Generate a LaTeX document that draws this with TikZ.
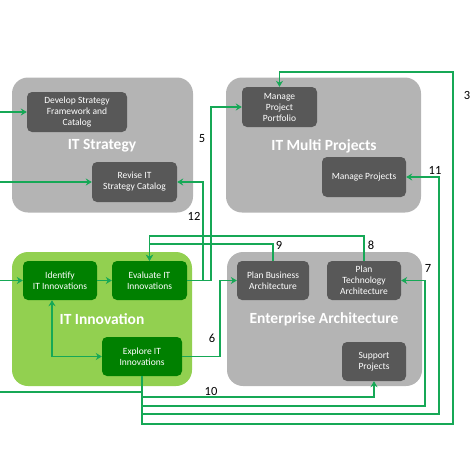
\documentclass[tikz,border=0pt]{standalone}
\usepackage{fontspec}
\setmainfont{Carlito}
\usetikzlibrary{arrows.meta}
\definecolor{flowgreen}{RGB}{22,168,86}
\definecolor{contgrey}{RGB}{180,180,180}
\definecolor{boxgrey}{RGB}{88,88,88}
\definecolor{innovgreen}{RGB}{146,208,80}
\definecolor{darkgreen}{RGB}{0,128,0}
\tikzset{
  container/.style={draw=none, fill=contgrey, rounded corners=16pt, inner sep=0pt},
  greencont/.style={container, fill=innovgreen},
  task/.style={draw=none, fill=boxgrey, rounded corners=5pt, text=white, align=center,
    font=\fontsize{9.5}{11}\selectfont, inner sep=1pt},
  gtask/.style={task, fill=darkgreen},
  title/.style={text=white, font=\fontsize{15.5}{17}\selectfont\bfseries},
  flow/.style={draw=flowgreen, line width=1.5pt, -{Stealth[length=6pt,width=7pt,inset=2pt]}},
  plainflow/.style={draw=flowgreen, line width=1.5pt},
  num/.style={text=black, font=\fontsize{12.5}{14}\selectfont, inner sep=0pt}
}
\begin{document}
\begin{tikzpicture}[x=1pt,y=-1pt]
\useasboundingbox (0,0) rectangle (474,474);
% containers
\node[container, minimum width=181pt, minimum height=135pt] (strat) at (102.5,145) {};
\node[container, minimum width=195pt, minimum height=135pt] (multi) at (323.5,145) {};
\node[greencont, minimum width=180pt, minimum height=134pt] (innov) at (102,319) {};
\node[container, minimum width=195pt, minimum height=134pt] (ea) at (324.5,319) {};
% titles
\node[title] (tstrat) at (102,146) {IT Strategy};
\node[title] (tmulti) at (324,146) {IT Multi Projects};
\node[title] (tinnov) at (102,319) {IT Innovation};
\node[title] (tea) at (324,319) {Enterprise Architecture};
% tasks
\node[task, minimum width=100pt, minimum height=40pt] (dev) at (77,112) {Develop Strategy\\Framework and\\Catalog};
\node[task, minimum width=85pt, minimum height=40pt] (rev) at (134.5,182) {Revise IT\\Strategy Catalog};
\node[task, minimum width=75pt, minimum height=40pt] (mpp) at (279.5,107) {Manage\\Project\\Portfolio};
\node[task, minimum width=84pt, minimum height=40pt] (mp) at (364,177) {Manage Projects};
\node[gtask, minimum width=74pt, minimum height=39pt] (ident) at (60,280.5) {Identify\\IT Innovations};
\node[gtask, minimum width=75pt, minimum height=39pt] (eval) at (149.5,280.5) {Evaluate IT\\Innovations};
\node[gtask, minimum width=80pt, minimum height=39pt] (expl) at (142,356.5) {Explore IT\\Innovations};
\node[task, minimum width=72pt, minimum height=39pt] (pba) at (273,280.5) {Plan Business\\Architecture};
\node[task, minimum width=74pt, minimum height=39pt] (pta) at (364,280.5) {Plan\\Technology\\Architecture};
\node[task, minimum width=64pt, minimum height=39pt] (sp) at (374,361.5) {Support\\Projects};
% free ends
\coordinate (in1) at (0,112);
\coordinate (in2) at (0,182);
\coordinate (in3) at (0,280.5);
\coordinate (in4) at (0,392);
% incoming from left
\draw[flow] (in1) -- (dev.west);
\draw[flow] (in2) -- (rev.west);
\draw[flow] (in3) -- (ident.west);
\draw[plainflow] (in4) -- (in4 -| expl.south);
% inside innovation
\draw[flow] (ident.east) -- (eval.west);
\draw[flow, {Stealth[length=6pt,width=7pt,inset=2pt]}-{Stealth[length=6pt,width=7pt,inset=2pt]}] ([xshift=-8pt]ident.south) |- (expl.west);
% 5 and 12
\draw[flow] (eval.east) -- (211,280.5) |- (mpp.west);
\draw[flow] (eval.east) -- (203,280.5) |- (rev.east);
% 6
\draw[flow] (expl.east) -- (220,356.5) |- (pba.west);
% 8 and 9
\draw[flow] (pta.north) |- (149.5,236) -- (eval.north);
\draw[flow] (pba.north) |- (149.5,244) -- (eval.north);
% from explore bottom
\draw[flow] (expl.south) |- (374,397) -- (sp.south);
\draw[flow] (expl.south) |- (425,406) |- (pta.east);
\draw[flow] (expl.south) |- (439,414) |- (mp.east);
\draw[flow] (expl.south) |- (453,424) |- (279.5,72) -- (mpp.north);
% numbers
\node[num] (n3) at (467,95) {3};
\node[num] (n5) at (202,139) {5};
\node[num] (n6) at (212,338) {6};
\node[num] (n7) at (428,268) {7};
\node[num] (n8) at (371,245) {8};
\node[num] (n9) at (279,245) {9};
\node[num] (n10) at (211,391) {10};
\node[num] (n11) at (435,170) {11};
\node[num] (n12) at (194,216) {12};
\end{tikzpicture}
\end{document}
